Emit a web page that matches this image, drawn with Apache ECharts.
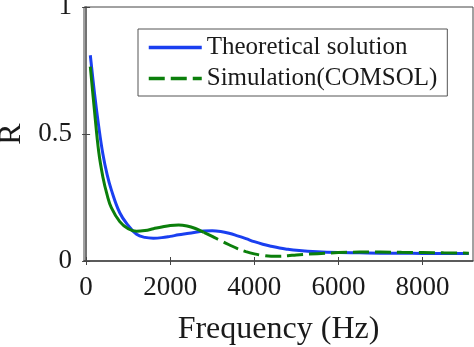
<!DOCTYPE html>
<html>
<head>
<meta charset="utf-8">
<script src="https://cdn.jsdelivr.net/npm/echarts@6/dist/echarts.min.js"></script>
<style>
  html, body { margin: 0; padding: 0; background: #fff; }
  #chart { width: 474px; height: 347px; }
</style>
</head>
<body>
<div id="chart"></div>
<script>
// Reflection coefficient R versus frequency
const frequency = [100, 200, 300, 400, 500, 600, 800, 1000, 1200, 1400, 1600, 1800, 2000, 2200, 2400, 2600, 2800,
  3000, 3200, 3400, 3600, 3800, 4000, 4200, 4400, 4600, 4800, 5000, 5500, 6000, 6500, 7000, 7500, 8000, 8500, 9100];
const theoretical = [0.81, 0.66, 0.53, 0.42, 0.34, 0.28, 0.19, 0.14, 0.105, 0.093, 0.09, 0.092, 0.097, 0.103, 0.108, 0.113, 0.118,
  0.119, 0.116, 0.109, 0.099, 0.088, 0.076, 0.066, 0.058, 0.051, 0.046, 0.042, 0.036, 0.033, 0.032, 0.031, 0.031, 0.030, 0.030, 0.030];
const simulation = [0.765, 0.59, 0.43, 0.33, 0.26, 0.21, 0.155, 0.127, 0.117, 0.12, 0.127, 0.134, 0.14, 0.142, 0.138, 0.128, 0.113,
  0.097, 0.08, 0.064, 0.049, 0.037, 0.028, 0.022, 0.019, 0.019, 0.021, 0.024, 0.029, 0.033, 0.035, 0.035, 0.034, 0.033, 0.032, 0.031];
const xTicks = [0, 2000, 4000, 6000, 8000];
const splitFreq = 2800; // simulation drawn solid below this frequency, dashed above

const font = 'Liberation Serif, Times New Roman, serif';
const textColor = '#1a1a1a';
const frameColor = '#444';
const blue = '#1a3ff0';
const green = '#0b7f0b';

const theoryPairs = frequency.map((f, i) => [f, theoretical[i]]);
const simPairs = frequency.map((f, i) => [f, simulation[i]]);
const simLow = simPairs.filter(p => p[0] <= splitFreq);
const simHigh = simPairs.filter(p => p[0] >= splitFreq);

const chart = echarts.init(document.getElementById('chart'), null, { renderer: 'canvas' });
chart.setOption({
  animation: false,
  backgroundColor: '#fff',
  grid: {
    left: 84, right: 1, top: 7, bottom: 86,
    containLabel: false, outerBoundsMode: 'none',
    show: true, borderColor: frameColor, borderWidth: 1
  },
  legend: {
    data: ['Theoretical solution', 'Simulation(COMSOL)'],
    orient: 'vertical',
    left: 138, top: 29,
    padding: [6, 10, 5, 9],
    itemWidth: 53, itemHeight: 10, itemGap: 6,
    borderColor: '#555', borderWidth: 1,
    backgroundColor: '#fff',
    itemStyle: { opacity: 0 },
    lineStyle: { width: 3.5 },
    textStyle: { fontFamily: font, fontSize: 25, color: textColor },
    selectedMode: false
  },
  xAxis: [{
    type: 'value', min: -50, max: 9200,
    name: 'Frequency (Hz)', nameLocation: 'middle', nameGap: 53,
    nameTextStyle: { fontFamily: font, fontSize: 32, color: textColor },
    axisLine: { show: true, lineStyle: { color: frameColor, width: 1.5 } },
    axisTick: { show: true, inside: true, length: 4, customValues: xTicks, lineStyle: { color: frameColor } },
    axisLabel: { customValues: xTicks, margin: 13, fontFamily: font, fontSize: 27, color: textColor,
      formatter: v => String(v) },
    splitLine: { show: false }
  }, {
    type: 'value', min: -50, max: 9200, position: 'top',
    axisLine: { show: false },
    axisTick: { show: true, inside: true, length: 4, customValues: xTicks, lineStyle: { color: frameColor } },
    axisLabel: { show: false },
    splitLine: { show: false }
  }],
  yAxis: [{
    type: 'value', min: 0, max: 1, interval: 0.5,
    name: 'R', nameLocation: 'middle', nameGap: 55, nameRotate: 90,
    nameTextStyle: { fontFamily: font, fontSize: 32, color: textColor },
    axisLine: { show: true, lineStyle: { color: frameColor, width: 1.5 } },
    axisTick: { show: true, inside: true, length: 4, lineStyle: { color: frameColor } },
    axisLabel: { margin: 12, fontFamily: font, fontSize: 27, color: textColor,
      formatter: v => String(v) },
    splitLine: { show: false }
  }, {
    type: 'value', min: 0, max: 1, interval: 0.5, position: 'right',
    axisLine: { show: false },
    axisTick: { show: true, inside: true, length: 4, lineStyle: { color: frameColor } },
    axisLabel: { show: false },
    splitLine: { show: false }
  }],
  series: [{
    name: 'Theoretical solution', type: 'line', data: theoryPairs,
    smooth: 0.4, symbol: 'none',
    lineStyle: { color: blue, width: 3 }, itemStyle: { color: blue }
  }, {
    name: 'Simulation(COMSOL)', type: 'line', data: simHigh,
    smooth: 0.4, symbol: 'none', z: 3,
    lineStyle: { color: green, width: 3, type: [16, 6] }, itemStyle: { color: green }
  }, {
    id: 'simLow', type: 'line', data: simLow,
    smooth: 0.4, symbol: 'none', z: 3,
    lineStyle: { color: green, width: 3 }, itemStyle: { color: green }
  }]
});
</script>
</body>
</html>
